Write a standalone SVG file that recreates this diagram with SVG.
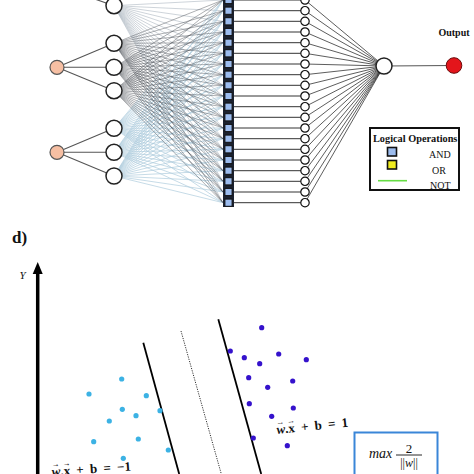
<svg xmlns="http://www.w3.org/2000/svg" xmlns:xlink="http://www.w3.org/1999/xlink" width="474" height="474" viewBox="0 0 474 474">
<style>
.t{font-family:"Liberation Serif","Times New Roman",serif;fill:#111}
.b{font-weight:bold}
.hid{fill:#fff;stroke:#222;stroke-width:1.5}
.inp{fill:#f6bfa3;stroke:#555;stroke-width:1.2}
.sm{fill:#fff;stroke:#111;stroke-width:1.2}
.sq{fill:#9cbcee;stroke:#111;stroke-width:1}
.pl{fill:#3cb2e4}
.pd{fill:#3512cc}
.eq{font-size:13px;word-spacing:3px}
.vec{font-size:8px;text-anchor:middle}
</style>
<defs>
<rect id="sq" x="-3.6" y="-3.6" width="7.2" height="7.2" class="sq"/>
<circle id="sc" r="4.2" class="sm"/>
</defs>
<rect width="474" height="474" fill="#fff"/>

<g id="connectors">
<g fill="none" stroke-width="0.7">
<path stroke="#b9c2ca" d="M114 5.7L223 0M114 5.7L223 10.7M114 5.7L223 21.3M114 5.7L223 32M114 5.7L223 42.7M114 5.7L223 53.3M114 5.7L223 64M114 5.7L223 74.7M114 5.7L223 85.3M114 5.7L223 96M114 5.7L223 106.7M114 5.7L223 117.3M114 5.7L223 128M114 5.7L223 138.7M114 5.7L223 149.3M114 5.7L223 160M114 5.7L223 170.7M114 5.7L223 181.3M114 5.7L223 192M114 5.7L223 202.7"/>
<path stroke="#aecbdd" d="M114 128.3L223 0M114 128.3L223 10.7M114 128.3L223 21.3M114 128.3L223 32M114 128.3L223 42.7M114 128.3L223 53.3M114 128.3L223 64M114 128.3L223 74.7M114 128.3L223 85.3M114 128.3L223 96M114 128.3L223 106.7M114 128.3L223 117.3M114 128.3L223 128M114 128.3L223 138.7M114 128.3L223 149.3M114 128.3L223 160M114 128.3L223 170.7M114 128.3L223 181.3M114 128.3L223 192M114 128.3L223 202.7"/>
<path stroke="#aecbdd" d="M114 152.3L223 0M114 152.3L223 10.7M114 152.3L223 21.3M114 152.3L223 32M114 152.3L223 42.7M114 152.3L223 53.3M114 152.3L223 64M114 152.3L223 74.7M114 152.3L223 85.3M114 152.3L223 96M114 152.3L223 106.7M114 152.3L223 117.3M114 152.3L223 128M114 152.3L223 138.7M114 152.3L223 149.3M114 152.3L223 160M114 152.3L223 170.7M114 152.3L223 181.3M114 152.3L223 192M114 152.3L223 202.7"/>
<path stroke="#aecbdd" d="M114 176L223 0M114 176L223 10.7M114 176L223 21.3M114 176L223 32M114 176L223 42.7M114 176L223 53.3M114 176L223 64M114 176L223 74.7M114 176L223 85.3M114 176L223 96M114 176L223 106.7M114 176L223 117.3M114 176L223 128M114 176L223 138.7M114 176L223 149.3M114 176L223 160M114 176L223 170.7M114 176L223 181.3M114 176L223 192M114 176L223 202.7"/>
<path stroke="#3c4248" stroke-opacity="0.6" d="M114 43.3L223 0M114 43.3L223 10.7M114 43.3L223 21.3M114 43.3L223 32M114 43.3L223 42.7M114 43.3L223 53.3M114 43.3L223 64M114 43.3L223 74.7M114 43.3L223 85.3M114 43.3L223 96M114 43.3L223 106.7M114 43.3L223 117.3M114 43.3L223 128M114 43.3L223 138.7M114 43.3L223 149.3M114 43.3L223 160M114 43.3L223 170.7M114 43.3L223 181.3M114 43.3L223 192M114 43.3L223 202.7"/>
<path stroke="#3c4248" stroke-opacity="0.6" d="M114 67.3L223 0M114 67.3L223 10.7M114 67.3L223 21.3M114 67.3L223 32M114 67.3L223 42.7M114 67.3L223 53.3M114 67.3L223 64M114 67.3L223 74.7M114 67.3L223 85.3M114 67.3L223 96M114 67.3L223 106.7M114 67.3L223 117.3M114 67.3L223 128M114 67.3L223 138.7M114 67.3L223 149.3M114 67.3L223 160M114 67.3L223 170.7M114 67.3L223 181.3M114 67.3L223 192M114 67.3L223 202.7"/>
<path stroke="#3c4248" stroke-opacity="0.6" d="M114 90.7L223 0M114 90.7L223 10.7M114 90.7L223 21.3M114 90.7L223 32M114 90.7L223 42.7M114 90.7L223 53.3M114 90.7L223 64M114 90.7L223 74.7M114 90.7L223 85.3M114 90.7L223 96M114 90.7L223 106.7M114 90.7L223 117.3M114 90.7L223 128M114 90.7L223 138.7M114 90.7L223 149.3M114 90.7L223 160M114 90.7L223 170.7M114 90.7L223 181.3M114 90.7L223 192M114 90.7L223 202.7"/>
</g>
<path fill="none" stroke="#555" stroke-width="1.1" d="M57 67.3L114 43.3M57 67.3L114 67.3M57 67.3L114 90.7M57 152.3L114 128.3M57 152.3L114 152.3M57 152.3L114 176M86 -4L114 5.7"/>
<path fill="none" stroke="#333" stroke-width="1" d="M234 0H305M234 10.7H305M234 21.3H305M234 32H305M234 42.7H305M234 53.3H305M234 64H305M234 74.7H305M234 85.3H305M234 96H305M234 106.7H305M234 117.3H305M234 128H305M234 138.7H305M234 149.3H305M234 160H305M234 170.7H305M234 181.3H305M234 192H305M234 202.7H305"/>
<path fill="none" stroke="#333" stroke-width="0.8" d="M305 0L384 66M305 10.7L384 66M305 21.3L384 66M305 32L384 66M305 42.7L384 66M305 53.3L384 66M305 64L384 66M305 74.7L384 66M305 85.3L384 66M305 96L384 66M305 106.7L384 66M305 117.3L384 66M305 128L384 66M305 138.7L384 66M305 149.3L384 66M305 160L384 66M305 170.7L384 66M305 181.3L384 66M305 192L384 66M305 202.7L384 66"/>
<path fill="none" stroke="#555" stroke-width="1" d="M384 66L454 65.5"/>
</g>

<g id="inputs">
<circle id="in1" cx="57" cy="67.3" r="7" class="inp"/>
<circle id="in2" cx="57" cy="152.3" r="7" class="inp"/>
</g>
<g id="hidden">
<circle cx="114" cy="5.7" r="8" class="hid"/>
<circle cx="114" cy="43.3" r="8" class="hid"/>
<circle cx="114" cy="67.3" r="8" class="hid"/>
<circle cx="114" cy="90.7" r="8" class="hid"/>
<circle cx="114" cy="128.3" r="8" class="hid"/>
<circle cx="114" cy="152.3" r="8" class="hid"/>
<circle cx="114" cy="176" r="8" class="hid"/>
</g>
<g id="and-column">
<rect x="223" y="-5" width="11" height="212" fill="#1b2230"/>
<use href="#sq" x="228.5" y="0"/><use href="#sq" x="228.5" y="10.7"/><use href="#sq" x="228.5" y="21.3"/><use href="#sq" x="228.5" y="32"/><use href="#sq" x="228.5" y="42.7"/><use href="#sq" x="228.5" y="53.3"/><use href="#sq" x="228.5" y="64"/><use href="#sq" x="228.5" y="74.7"/><use href="#sq" x="228.5" y="85.3"/><use href="#sq" x="228.5" y="96"/><use href="#sq" x="228.5" y="106.7"/><use href="#sq" x="228.5" y="117.3"/><use href="#sq" x="228.5" y="128"/><use href="#sq" x="228.5" y="138.7"/><use href="#sq" x="228.5" y="149.3"/><use href="#sq" x="228.5" y="160"/><use href="#sq" x="228.5" y="170.7"/><use href="#sq" x="228.5" y="181.3"/><use href="#sq" x="228.5" y="192"/><use href="#sq" x="228.5" y="202.7"/>
</g>
<g id="small-circles">
<use href="#sc" x="305" y="0"/><use href="#sc" x="305" y="10.7"/><use href="#sc" x="305" y="21.3"/><use href="#sc" x="305" y="32"/><use href="#sc" x="305" y="42.7"/><use href="#sc" x="305" y="53.3"/><use href="#sc" x="305" y="64"/><use href="#sc" x="305" y="74.7"/><use href="#sc" x="305" y="85.3"/><use href="#sc" x="305" y="96"/><use href="#sc" x="305" y="106.7"/><use href="#sc" x="305" y="117.3"/><use href="#sc" x="305" y="128"/><use href="#sc" x="305" y="138.7"/><use href="#sc" x="305" y="149.3"/><use href="#sc" x="305" y="160"/><use href="#sc" x="305" y="170.7"/><use href="#sc" x="305" y="181.3"/><use href="#sc" x="305" y="192"/><use href="#sc" x="305" y="202.7"/>
</g>
<g id="sum-node"><circle cx="384" cy="66" r="8" class="hid"/></g>
<g id="output-node">
<circle cx="454" cy="65.5" r="7.8" fill="#e3151b" stroke="#6a0a0a" stroke-width="1"/>
<text class="t b" x="454" y="36" font-size="10" text-anchor="middle">Output</text>
</g>
<g id="legend">
<text class="t b" x="373" y="142" font-size="10.3">Logical Operations</text>
<rect x="387.5" y="147.5" width="9" height="8.5" fill="#9cbcee" stroke="#111" stroke-width="1.6"/>
<rect x="387.5" y="160.5" width="9" height="8.5" fill="#f0ec20" stroke="#111" stroke-width="1.6"/>
<line x1="378" y1="180.7" x2="407" y2="180.7" stroke="#66dd44" stroke-width="1.6"/>
<text class="t" x="429" y="158" font-size="10">AND</text>
<text class="t" x="432" y="174" font-size="10">OR</text>
<text class="t" x="430" y="188.5" font-size="10">NOT</text>
<rect x="370" y="128" width="89" height="62" fill="none" stroke="#111" stroke-width="2"/>
</g>

<g id="svm">
<text class="t b" x="12" y="243" font-size="17">d)</text>
<line x1="37.7" y1="272" x2="37.7" y2="474" stroke="#000" stroke-width="3.5"/>
<polygon points="37.7,262 32.7,274 42.7,274" fill="#000"/>
<text class="t" x="19.5" y="279" font-size="11" font-style="italic">Y</text>
<line x1="143.3" y1="342.7" x2="179.2" y2="474" stroke="#000" stroke-width="1.8"/>
<line x1="181" y1="331" x2="221.3" y2="474" stroke="#333" stroke-width="1" stroke-dasharray="1.2 1.2"/>
<line x1="218.3" y1="319.3" x2="261.2" y2="474" stroke="#000" stroke-width="1.8"/>
<g id="class-neg">
<circle class="pl" cx="121.7" cy="379" r="2.6"/><circle class="pl" cx="89" cy="394" r="2.6"/><circle class="pl" cx="146.3" cy="395.7" r="2.6"/><circle class="pl" cx="122.3" cy="409.3" r="2.6"/><circle class="pl" cx="136" cy="415.7" r="2.6"/><circle class="pl" cx="160" cy="410.7" r="2.6"/><circle class="pl" cx="109.3" cy="421" r="2.6"/><circle class="pl" cx="93.7" cy="441.7" r="2.6"/><circle class="pl" cx="138.3" cy="439" r="2.6"/><circle class="pl" cx="168.3" cy="450" r="2.6"/><circle class="pl" cx="123.3" cy="458.3" r="2.6"/>
</g>
<g id="class-pos">
<circle class="pd" cx="261.7" cy="327.7" r="2.6"/><circle class="pd" cx="230.3" cy="351" r="2.6"/><circle class="pd" cx="244.3" cy="357.7" r="2.6"/><circle class="pd" cx="259.7" cy="363.7" r="2.6"/><circle class="pd" cx="278.7" cy="354" r="2.6"/><circle class="pd" cx="306.3" cy="359.7" r="2.6"/><circle class="pd" cx="248.7" cy="377.7" r="2.6"/><circle class="pd" cx="267.7" cy="387.3" r="2.6"/><circle class="pd" cx="292.7" cy="381" r="2.6"/><circle class="pd" cx="249.3" cy="403.7" r="2.6"/><circle class="pd" cx="293.3" cy="408" r="2.6"/><circle class="pd" cx="271.7" cy="416.3" r="2.6"/><circle class="pd" cx="253.3" cy="438" r="2.6"/><circle class="pd" cx="287.3" cy="445.7" r="2.6"/>
</g>
<g id="eq-pos" transform="rotate(-6 277 434)">
<text class="t b eq" x="277" y="434"><tspan font-style="italic">w</tspan>.x + b = 1</text>
<text class="t b vec" x="281.5" y="425">→</text>
<text class="t b vec" x="292.3" y="425">→</text>
</g>
<g id="eq-neg" transform="rotate(-4 52 476)">
<text class="t b eq" x="52" y="476"><tspan font-style="italic">w</tspan>.x + b = −1</text>
<text class="t b vec" x="56.5" y="467">→</text>
<text class="t b vec" x="67.3" y="467">→</text>
</g>
<g id="margin-box">
<rect x="354.5" y="432.5" width="83" height="50" fill="none" stroke="#3a86d8" stroke-width="2"/>
<text class="t" x="369" y="458" font-size="14" font-style="italic">max</text>
<text class="t" x="409" y="453" font-size="13" text-anchor="middle">2</text>
<line x1="396" y1="455" x2="422" y2="455" stroke="#111" stroke-width="0.9"/>
<text class="t" x="409" y="466.5" font-size="12" text-anchor="middle">||<tspan font-style="italic">w</tspan>||</text>
</g>
</g>
</svg>
